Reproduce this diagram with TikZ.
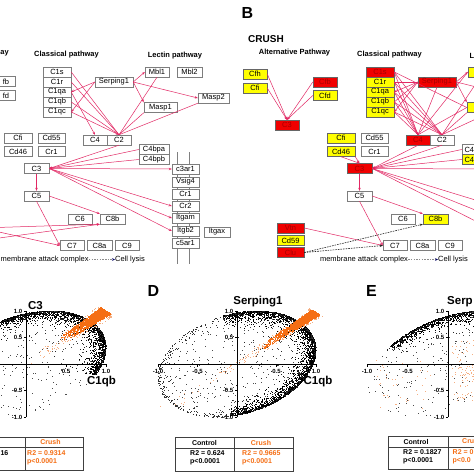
\documentclass[tikz,border=0pt]{standalone}
\usepackage{fontspec}
\setmainfont{Liberation Sans}
\usetikzlibrary{arrows.meta}
\definecolor{pk}{RGB}{226,40,100}
\definecolor{bred}{RGB}{240,0,0}
\definecolor{tred}{RGB}{165,0,0}
\definecolor{byel}{RGB}{255,255,0}
\definecolor{bgray}{RGB}{125,125,125}
\definecolor{org}{RGB}{245,110,20}
\definecolor{porg}{RGB}{245,175,130}
\tikzset{
 bx/.style={draw=bgray, fill=white, line width=0.45pt, minimum height=10, inner sep=0pt, font=\fontsize{7.5}{8}\selectfont, text=black},
 rb/.style={fill=bred, text=tred, draw=black!60},
 yb/.style={fill=byel, draw=black!60},
 hdr/.style={font=\bfseries\fontsize{7.5}{8}\selectfont, inner sep=0pt},
 txt/.style={font=\fontsize{7.5}{8}\selectfont, inner sep=0pt},
 pe/.style={draw=pk, line width=0.5pt},
 pa/.style={pe, -{Stealth[length=3pt,width=2.4pt]}},
 da/.style={draw=black!85, line width=0.6pt, dash pattern=on 1.6pt off 1pt, -{Stealth[length=3pt,width=2.4pt]}},
 dl/.style={draw=black!45, line width=0.5pt, dash pattern=on 1.5pt off 1.2pt, -{Stealth[length=3pt,width=2.6pt,color=blue!40!black]}},
 mem/.style={draw=black!50, line width=0.5pt},
 axl/.style={draw=black, line width=0.9pt},
 tl/.style={font=\bfseries\fontsize{6}{6}\selectfont, inner sep=0pt},
 ttl/.style={font=\bfseries\fontsize{11.5}{12}\selectfont, inner sep=0pt},
 big/.style={font=\bfseries\fontsize{16}{16}\selectfont, inner sep=0pt},
 tb/.style={draw=black!75, line width=0.6pt},
 tc/.style={font=\bfseries\fontsize{7}{8}\selectfont, inner sep=0pt, align=left},
 nc-C1s/.style={}, nc-C1r/.style={}, nc-C1qa/.style={}, nc-C1qb/.style={}, nc-C1qc/.style={},
 nc-Serping1/.style={}, nc-Cfi2/.style={}, nc-Cd55/.style={}, nc-Cd46/.style={}, nc-Cr1/.style={},
 nc-C4/.style={}, nc-C2/.style={}, nc-C3/.style={}, nc-C5/.style={}, nc-C6/.style={}, nc-C8b/.style={},
 nc-C7/.style={}, nc-C8a/.style={}, nc-C9/.style={}
}
% scatter helpers (data coordinates)
\newcommand\ringpts[6]{% phi tmin tmax N depth halfsize
 \foreach \i in {1,...,#4}{%
  \pgfmathsetmacro\qT{#2+rnd*((#3)-(#2))}%
  \pgfmathsetmacro\qR{1-#5*rnd*rnd*rnd}%
  \fill ({\qR*cos(\qT)},{\qR*cos(\qT-(#1))}) +(-#6,-#6) rectangle +(#6,#6);
 }}
\newcommand\diskpts[3]{% phi N halfsize
 \foreach \i in {1,...,#2}{%
  \pgfmathsetmacro\qT{360*rnd}%
  \pgfmathsetmacro\qR{sqrt(rnd)}%
  \fill ({\qR*cos(\qT)},{\qR*cos(\qT-(#1))}) +(-#3,-#3) rectangle +(#3,#3);
 }}
\newcommand\streakpts[6]{% tipX tipY smin N hw halfsize
 \foreach \i in {1,...,#4}{%
  \pgfmathsetmacro\qS{1-(1-(#3))*rnd*rnd}%
  \pgfmathsetmacro\qD{(2*rnd-1)*#5*(0.35+0.65*abs(\qS))}%
  \fill ({\qS*(#1)-(\qD)},{\qS*(#2)+(\qD)}) +(-#6,-#6) rectangle +(#6,#6);
 }}
\newcommand\boxpts[6]{% x1 x2 y1 y2 N halfsize
 \foreach \i in {1,...,#5}{%
  \pgfmathsetmacro\qX{(#1)+rnd*((#2)-(#1))}%
  \pgfmathsetmacro\qY{(#3)+rnd*((#4)-(#3))}%
  \fill (\qX,\qY) +(-#6,-#6) rectangle +(#6,#6);
 }}
\newcommand\dataaxes[1]{% list of x tick labels
 \draw[axl] (-1,0) -- (1,0);
 \draw[axl] (0,-1) -- (0,1);
 \foreach \v in {-1,-0.5,0.5,1}{%
   \draw[axl] (\v,0) -- ++(0,-2.5pt);
   \draw[axl] (0,\v) -- ++(-2.5pt,0);
 }
 \foreach \v/\l in {-1/-1.0,-0.5/-0.5,0.5/0.5,1/1.0}{%
   \node[tl,anchor=east] at ([xshift=-3.5pt]0,\v) {\l};
 }
 \foreach \v/\l in {#1}{%
   \node[tl,anchor=north] at ([yshift=-5pt]\v,0) {\l};
 }}
% parts of the pathway common to both panels
\newcommand\pathcore{%
\node[hdr] (clhdr) at (66.5,55) {Classical pathway};
\node[bx,minimum width=28,nc-C1s] (C1s) at (57,72) {C1s};
\node[bx,minimum width=28,nc-C1r] (C1r) at (57,82) {C1r};
\node[bx,minimum width=28,nc-C1qa] (C1qa) at (57,92) {C1qa};
\node[bx,minimum width=28,nc-C1qb] (C1qb) at (57,102) {C1qb};
\node[bx,minimum width=28,nc-C1qc] (C1qc) at (57,112) {C1qc};
\node[bx,minimum width=38,nc-Serping1] (Serping1) at (114,82) {Serping1};
\node[bx,minimum width=28,nc-Cfi2] (Cfi2) at (18,138) {Cfi};
\node[bx,minimum width=27,nc-Cd55] (Cd55) at (51.5,138) {Cd55};
\node[bx,minimum width=28,nc-Cd46] (Cd46) at (18,151.5) {Cd46};
\node[bx,minimum width=27,nc-Cr1] (Cr1) at (51.5,151.5) {Cr1};
\node[bx,minimum width=24,nc-C4] (C4) at (95,140) {C4};
\node[bx,minimum width=24,nc-C2] (C2) at (119,140) {C2};
\node[bx,minimum width=25,nc-C3] (C3) at (36.5,168.5) {C3};
\node[bx,minimum width=25,nc-C5] (C5) at (36.5,196) {C5};
\node[bx,minimum width=24,nc-C6] (C6) at (80,219) {C6};
\node[bx,minimum width=25,nc-C8b] (C8b) at (112.5,219) {C8b};
\node[bx,minimum width=24,nc-C7] (C7) at (72,245.5) {C7};
\node[bx,minimum width=25,nc-C8a] (C8a) at (99.5,245.5) {C8a};
\node[bx,minimum width=24,nc-C9] (C9) at (127,245.5) {C9};
\node[txt] (lysis) at (130,259.5) {Cell lysis};
\draw[pa] (Serping1.west) -- (C1qa.east);
\draw[pa] (Serping1.west) -- (C1qc.east);
\draw[pe] (C1s.east) -- (C2.north);
\draw[pe] (C1r.east) -- (C2.north);
\draw[pa] (C1qa.east) -- (C4.north);
\draw[pe] (C1qb.east) -- (C2.north);
\draw[pa] (C1qc.east) -- (C2.north);
\draw[pa] (C2.south) -- (C3.east);
\draw[pa] (C3.south) -- (C5.north);
\draw[pa] (C5.east) -- (C8b.north west);
\draw[pa] (C5.south) -- (C7.west);
}
\begin{document}
\begin{tikzpicture}[x=1pt,y=-1pt]
\useasboundingbox (0,0) rectangle (474,474);
\fill[white] (0,0) rectangle (474,474);
\clip (0,0) rectangle (474,474);
% ================= panel A (control) =================
\begin{scope}[name prefix=a-]
\coordinate (m1t) at (177,152); \coordinate (m1b) at (177,264);
\coordinate (m2t) at (189,152); \coordinate (m2b) at (189,264);
\draw[mem] (m1t) -- (m1b) (m2t) -- (m2b);
\pathcore
\node[hdr, anchor=east] (althdr) at (9,53) {ay};
\node[bx,minimum width=25] (Cfb) at (2.5,81.5) {};
\node[txt] (Cfbt) at (6,81.5) {fb};
\node[bx,minimum width=25] (Cfd) at (2.5,95.5) {};
\node[txt] (Cfdt) at (6,95.5) {fd};
\node[hdr] (lehdr) at (175,55.5) {Lectin pathway};
\node[bx,minimum width=24] (Mbl1) at (157,72) {Mbl1};
\node[bx,minimum width=25] (Mbl2) at (189.5,72) {Mbl2};
\node[bx,minimum width=33] (Masp1) at (160.5,107.5) {Masp1};
\node[bx,minimum width=31] (Masp2) at (213.5,98) {Masp2};
\node[bx,minimum width=30] (C4bpa) at (154,149.5) {C4bpa};
\node[bx,minimum width=30] (C4bpb) at (154,159.5) {C4bpb};
\node[bx,minimum width=27] (c3ar1) at (185.5,169) {c3ar1};
\node[bx,minimum width=27] (Vsig4) at (185.5,182) {Vsig4};
\node[bx,minimum width=27] (Cr1m) at (185.5,194) {Cr1};
\node[bx,minimum width=27] (Cr2) at (185.5,206) {Cr2};
\node[bx,minimum width=27] (Itgam) at (185.5,218) {Itgam};
\node[bx,minimum width=27] (Itgb2) at (185.5,231) {Itgb2};
\node[bx,minimum width=27] (c5ar1) at (185.5,243) {c5ar1};
\node[bx,minimum width=26] (Itgax) at (217,232) {Itgax};
\node[txt, anchor=west] (mac) at (0.5,259.5) {membrane attack complex};
\coordinate (vtn) at (-19,228);
\coordinate (cd59) at (-19,240.5);
\draw[pa] (Serping1.east) -- (Mbl1.west);
\draw[pa] (Serping1.east) -- (Masp2.west);
\draw[pa] (Serping1.east) -- (Masp1.north west);
\draw[pe] (Mbl1.south) -- (C2.north);
\draw[pe] (Masp1.south west) -- (C2.north);
\draw[pe] (Masp2.south west) -- (C2.north);
\draw[pa] (C4bpa.west) -- (C3.east);
\draw[pa] (C4bpb.west) -- (C3.east);
\draw[pa] (C3.east) -- (c3ar1.west);
\draw[pa] (C3.east) -- (Cr2.west);
\draw[pa] (C3.east) -- (Itgam.west);
\draw[pa] (C3.east) -- (Itgb2.west);
\draw[pa] (vtn) -- (C8b.south west);
\draw[pa] (cd59) -- (C8b.south west);
\draw[pa] (vtn) -- (C7.west);
\draw[dl] (mac.east) -- (lysis.west);
\end{scope}
% ================= panel B (crush) =================
\begin{scope}[shift={(323,0)}, name prefix=b-,
 nc-C1s/.style=rb, nc-C1r/.style=yb, nc-C1qa/.style=yb, nc-C1qb/.style=yb, nc-C1qc/.style=yb,
 nc-Serping1/.style=rb, nc-C4/.style=rb, nc-Cfi2/.style=yb, nc-Cd46/.style=yb, nc-C3/.style=rb,
 nc-C8b/.style=yb]
\pathcore
\node[big] (blabel) at (-75.5,13) {B};
\node[font=\bfseries\fontsize{10}{10}\selectfont, inner sep=0pt] (crush) at (-57,39) {CRUSH};
\node[hdr] (althdr) at (-28.5,53) {Alternative Pathway};
\node[bx,yb,minimum width=24] (Cfh) at (-68,74) {Cfh};
\node[bx,yb,minimum width=24] (Cfi) at (-68,88) {Cfi};
\node[bx,rb,minimum width=24] (Cfb) at (2,82) {Cfb};
\node[bx,yb,minimum width=24] (Cfd) at (2,95.5) {Cfd};
\node[bx,rb,minimum width=24] (C3a) at (-36,125) {C3};
\node[bx,rb,minimum width=27] (Vtn) at (-32.5,228) {Vtn};
\node[bx,yb,minimum width=27] (Cd59) at (-32.5,240.5) {Cd59};
\node[bx,rb,minimum width=27] (Clu) at (-32.5,252.5) {Clu};
\node[txt] (mac) at (41,259.5) {membrane attack complex};
\node[hdr, anchor=west] (lehdr) at (146.5,55.5) {L};
\node[bx,yb,minimum width=24] (Mbl1) at (157,72) {};
\node[bx,yb,minimum width=33] (Masp1) at (160.5,107.5) {};
\node[bx,minimum width=30] (C4bpa) at (154,149.5) {};
\node[bx,yb,minimum width=30] (C4bpb) at (154,159.5) {};
\node[txt, anchor=west] (C4bpat) at (141.3,149.5) {C4};
\node[txt, anchor=west] (C4bpbt) at (141.3,159.5) {C4};
\coordinate (masp2) at (198,98);
\coordinate (r1) at (172,169);
\coordinate (r4) at (172,206);
\coordinate (r5) at (172,218);
\coordinate (r6) at (172,231);
\draw[pa] (Cfh.east) -- (C3a.north);
\draw[pa] (Cfi.east) -- (C3a.north);
\draw[pa] (Cfb.west) -- (C3a.north);
\draw[pa] (Cfd.west) -- (C3a.north);
\draw[pa] (Serping1.east) -- (Mbl1.west);
\draw[pa] (Serping1.east) -- (masp2);
\draw[pa] (Serping1.east) -- (Masp1.north west);
\draw[pe] (Mbl1.south) -- (C2.north);
\draw[pe] (Masp1.south west) -- (C2.north);
\draw[pe] (masp2) -- (C2.north);
\draw[pe] (Mbl1.west) -- (C4.north);
\draw[pe] (Masp1.west) -- (C4.north);
\draw[pe] (Serping1.south) -- (C4.north);
\draw[pe] (C1s.east) -- (C4.north);
\draw[pe] (C1r.east) -- (C4.north);
\draw[pe] (C1qb.east) -- (C4.north);
\draw[pe] (C1qc.east) -- (C4.north);
\draw[pe] (C1r.east) -- (Serping1.west);
\draw[pe] (C1qb.east) -- (Serping1.west);
\draw[pe] (C1s.east) -- (Masp1.west);
\draw[pe] (C1qa.east) -- (C2.north);
\draw[pa] (C4.south) -- (C3.east);
\draw[pa] (C4bpa.west) -- (C3.east);
\draw[pa] (C4bpb.west) -- (C3.east);
\draw[pa] (C3.east) -- (r1);
\draw[pa] (C3.east) -- (r4);
\draw[pa] (C3.east) -- (r5);
\draw[pa] (C3.east) -- (r6);
\draw[pa] (Cd46.south) -- (C3.north);
\draw[pa] (Cd46.south east) -- (C3.north);
\draw[pa] (Vtn.east) -- (C7.west);
\draw[da] (Clu.east) -- (C8b.south west);
\draw[da] (Clu.east) -- (C7.west);
\draw[dl] (mac.east) -- (lysis.west);
\end{scope}
% ================= panel C =================
\pgfmathsetseed{7}
\begin{scope}
\clip (0,298) rectangle (145,432);
\begin{scope}[shift={(26,364)}, x=80pt, y=53pt]
 \begin{scope}[black] \ringpts{72}{-30}{125}{2200}{0.35}{0.45pt} \end{scope}
 \begin{scope}[black!85] \ringpts{72}{-30}{125}{450}{0.75}{0.32pt} \end{scope}
 \begin{scope}[black!70] \diskpts{72}{260}{0.3pt} \end{scope}
 \begin{scope}[porg] \streakpts{1.0}{1.0}{0}{220}{0.1}{0.35pt} \end{scope}
 \begin{scope}[org] \streakpts{1.0}{1.0}{0.45}{1300}{0.06}{0.6pt} \end{scope}
 \dataaxes{0.5/0.5,1/1.0}
\end{scope}
\end{scope}
\node[ttl] (c3t) at (35.5,306) {C3};
\node[ttl] (c1qbc) at (101.5,382) {C1qb};
\draw[tb] (-33,437) rectangle (83,470) (25,437) -- (25,470) (-33,447.5) -- (83,447.5);
\node[tc, text=org] (cch) at (50.5,442.3) {Crush};
\node[tc, anchor=east] (cc1) at (8.5,453) {16};
\node[tc, text=org, anchor=west] (cc2) at (27,457.5) {R2 = 0.9314\\p<0.0001};
% ================= panel D =================
\node[big] (dlabel) at (153.5,291) {D};
\begin{scope}
\clip (148,298) rectangle (340,432);
\begin{scope}[shift={(237,364)}, x=79pt, y=53pt]
 \begin{scope}[black] \ringpts{75}{-95}{100}{2800}{0.36}{0.45pt} \end{scope}
 \begin{scope}[black!85] \ringpts{75}{-95}{100}{550}{0.7}{0.32pt} \end{scope}
 \begin{scope}[black!80] \ringpts{75}{100}{265}{260}{0.3}{0.3pt} \end{scope}
 \begin{scope}[black!70] \diskpts{75}{330}{0.3pt} \end{scope}
 \begin{scope}[porg] \streakpts{1.0}{0.97}{-1}{240}{0.08}{0.35pt} \end{scope}
 \begin{scope}[org] \streakpts{1.0}{0.97}{0.3}{1200}{0.05}{0.6pt} \end{scope}
 \dataaxes{-1/-1.0,-0.5/-0.5,0.5/0.5,1/1.0}
\end{scope}
\end{scope}
\node[ttl] (serd) at (258,301.5) {Serping1};
\node[ttl] (c1qbd) at (318,382) {C1qb};
\draw[tb] (175,437) rectangle (293,471) (234,437) -- (234,471) (175,448) -- (293,448);
\node[tc] (dh1) at (204.5,442.5) {Control};
\node[tc, text=org] (dh2) at (261,442.5) {Crush};
\node[tc, anchor=west] (dd1) at (190,458) {R2 = 0.624\\p<0.0001};
\node[tc, text=org, anchor=west] (dd2) at (242,458) {R2 = 0.9665\\p<0.0001};
% ================= panel E =================
\node[big] (elabel) at (371.5,291) {E};
\begin{scope}
\clip (360,298) rectangle (474,432);
\begin{scope}[shift={(448,364)}, x=81pt, y=53pt]
 \begin{scope}[black] \ringpts{65}{40}{135}{1100}{0.35}{0.45pt} \end{scope}
 \begin{scope}[black!85] \ringpts{65}{40}{140}{250}{0.7}{0.32pt} \end{scope}
 \begin{scope}[black!70] \diskpts{65}{260}{0.3pt} \end{scope}
 \begin{scope}[porg] \boxpts{-0.9}{-0.2}{-0.9}{0.1}{40}{0.35pt} \end{scope}
 \begin{scope}[porg] \boxpts{0.05}{0.35}{-0.7}{0.45}{90}{0.35pt} \end{scope}
 \dataaxes{-1/-1.0,-0.5/-0.5}
\end{scope}
\end{scope}
\node[ttl, anchor=west] (sere) at (447,301.5) {Serp};
\draw[tb] (388,436) rectangle (510,469) (448,436) -- (448,469) (388,447) -- (510,447);
\node[tc] (eh1) at (416,441.5) {Control};
\node[tc, text=org, anchor=west] (eh2) at (462,441.5) {Cru};
\node[tc, anchor=west] (ed1) at (403,457) {R2 = 0.1827\\p<0.0001};
\node[tc, text=org, anchor=west] (ed2) at (452.5,457) {R2 = 0\\p<0.0};
\end{tikzpicture}
\end{document}
